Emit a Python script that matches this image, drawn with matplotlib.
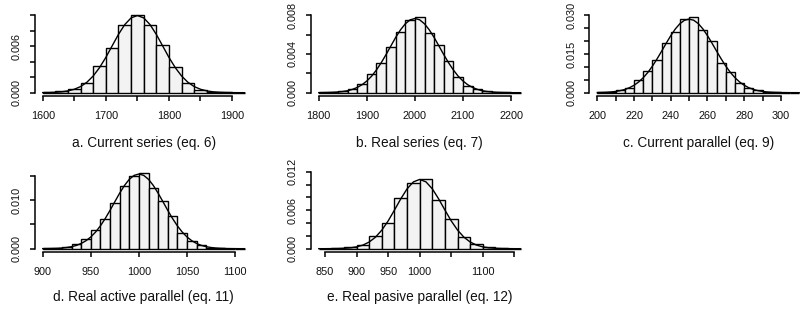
import numpy as np
import matplotlib
matplotlib.use("Agg")
import matplotlib.pyplot as plt

plt.rcParams['font.family'] = ['Liberation Sans', 'DejaVu Sans']

# ---------------- data ----------------
titles = ["a. Current series (eq. 6)", "b. Real series (eq. 7)", "c. Current parallel (eq. 9)",
          "d. Real active parallel (eq. 11)", "e. Real pasive parallel (eq. 12)"]

# histogram bin ranges (start, stop, width) and densities
a_bins = (1600, 1920, 20)
a_dens = [0.0001, 0.00025, 0.0005, 0.0013, 0.0034, 0.0058, 0.0088, 0.0101, 0.0088, 0.0062,
          0.0033, 0.0012, 0.0004, 0.0001, 0.00003, 0.00002]
b_bins = (1800, 2220, 20)
b_dens = [0.00003, 0.0001, 0.0002, 0.0004, 0.0009, 0.0019, 0.0031, 0.0047, 0.0063, 0.0075,
          0.0078, 0.0062, 0.0049, 0.0033, 0.0016, 0.0007, 0.0004, 0.00015, 0.00005, 0.00002, 0.00001]
c_bins = (200, 310, 5)
c_dens = [0.0001, 0.0002, 0.0009, 0.002, 0.0048, 0.0084, 0.0125, 0.0191, 0.0234, 0.0285, 0.0292,
          0.0241, 0.0199, 0.0114, 0.008, 0.0039, 0.0019, 0.001, 0.0003, 0.0001, 0.00003, 0.00001]
d_bins = (900, 1110, 10)
d_dens = [0.0001, 0.0001, 0.0003, 0.0009, 0.002, 0.0038, 0.0062, 0.0094, 0.0128, 0.015, 0.0155,
          0.0125, 0.0098, 0.0067, 0.0032, 0.0016, 0.0008, 0.0002, 0.0001, 0.00003, 0.00001]
e_bins = (840, 1160, 20)
e_dens = [0.00002, 0.00005, 0.0002, 0.0006, 0.002, 0.004, 0.0079, 0.0103, 0.0108, 0.0076,
          0.0047, 0.0018, 0.0007, 0.0002, 0.00005, 0.00002]

# density curves (x grid start, stop, step) and values
a_curve_x = (1600, 1920, 10)
a_curve_y = [0.00001, 0.00002, 0.00005, 0.00011, 0.00023, 0.00044, 0.00079, 0.00135, 0.00216,
             0.00324, 0.00456, 0.00605, 0.00753, 0.0088, 0.00966, 0.00997, 0.00966, 0.0088,
             0.00753, 0.00605, 0.00456, 0.00324, 0.00216, 0.00135, 0.00079, 0.00044, 0.00023,
             0.00011, 0.00005, 0.00002, 0.00001, 0, 0]
b_curve_x = (1800, 2220, 10)
b_curve_y = [0, 0.00001, 0.00002, 0.00004, 0.00007, 0.00012, 0.0002, 0.00034, 0.00054, 0.00082,
             0.00121, 0.00171, 0.00235, 0.0031, 0.00394, 0.00483, 0.00571, 0.00649, 0.00712,
             0.00753, 0.00767, 0.00753, 0.00712, 0.00649, 0.00571, 0.00483, 0.00394, 0.0031,
             0.00235, 0.00171, 0.00121, 0.00082, 0.00054, 0.00034, 0.0002, 0.00012, 0.00007,
             0.00004, 0.00002, 0.00001, 0, 0, 0]
c_curve_x = (200, 310, 2.5)
c_curve_y = [0.00005, 0.00009, 0.00016, 0.00028, 0.00048, 0.00079, 0.00125, 0.00193, 0.00287,
             0.00414, 0.00579, 0.00783, 0.01027, 0.01305, 0.01605, 0.01913, 0.02208, 0.02469,
             0.02674, 0.02805, 0.0285, 0.02805, 0.02674, 0.02469, 0.02208, 0.01913, 0.01605,
             0.01305, 0.01027, 0.00783, 0.00579, 0.00414, 0.00287, 0.00193, 0.00125, 0.00079,
             0.00048, 0.00028, 0.00016, 0.00009, 0.00005, 0.00003, 0.00001, 0.00001, 0]
d_curve_x = (900, 1110, 5)
d_curve_y = [0.00001, 0.00002, 0.00004, 0.00007, 0.00013, 0.00024, 0.00041, 0.00067, 0.00107,
             0.00164, 0.00241, 0.00343, 0.0047, 0.0062, 0.00788, 0.00966, 0.01141, 0.01299,
             0.01425, 0.01506, 0.01534, 0.01506, 0.01425, 0.01299, 0.01141, 0.00966, 0.00788,
             0.0062, 0.0047, 0.00343, 0.00241, 0.00164, 0.00107, 0.00067, 0.00041, 0.00024,
             0.00013, 0.00007, 0.00004, 0.00002, 0.00001, 0, 0]
e_curve_x = (840, 1160, 10)
e_curve_y = [0, 0, 0.00001, 0.00002, 0.00006, 0.00013, 0.00028, 0.00056, 0.00104, 0.0018, 0.0029,
             0.00433, 0.00602, 0.00777, 0.00933, 0.01041, 0.0108, 0.01041, 0.00933, 0.00777,
             0.00602, 0.00433, 0.0029, 0.0018, 0.00104, 0.00056, 0.00028, 0.00013, 0.00006,
             0.00002, 0.00001, 0, 0]

# axis ticks and labels
a_xticks = [1600, 1650, 1700, 1750, 1800, 1850, 1900]
a_xlabels = ["1600", "", "1700", "", "1800", "", "1900"]
a_yticks = [0, 0.002, 0.004, 0.006, 0.008, 0.010]
a_ylabels = ["0.000", "", "", "0.006", "", ""]
b_xticks = [1800, 1900, 2000, 2100, 2200]
b_xlabels = ["1800", "1900", "2000", "2100", "2200"]
b_yticks = [0, 0.002, 0.004, 0.006, 0.008]
b_ylabels = ["0.000", "", "0.004", "", "0.008"]
c_xticks = [200, 210, 220, 230, 240, 250, 260, 270, 280, 290, 300]
c_xlabels = ["200", "", "220", "", "240", "", "260", "", "280", "", "300"]
c_yticks = [0, 0.005, 0.010, 0.015, 0.020, 0.025, 0.030]
c_ylabels = ["0.000", "", "", "0.015", "", "", "0.030"]
d_xticks = [900, 950, 1000, 1050, 1100]
d_xlabels = ["900", "950", "1000", "1050", "1100"]
d_yticks = [0, 0.005, 0.010, 0.015]
d_ylabels = ["0.000", "", "0.010", ""]
e_xticks = [850, 900, 950, 1000, 1050, 1100, 1150]
e_xlabels = ["850", "900", "950", "1000", "", "1100", ""]
e_yticks = [0, 0.002, 0.004, 0.006, 0.008, 0.010, 0.012]
e_ylabels = ["0.000", "", "", "0.006", "", "", "0.012"]

# ---------------- layout ----------------
W, H = 800, 312
fig = plt.figure(figsize=(W / 100, H / 100), dpi=100)

panels = [
    (34.7, 11.3, 0.01011, a_bins, a_dens, a_curve_x, a_curve_y, a_xticks, a_xlabels, a_yticks, a_ylabels),
    (310.7, 11.3, 0.00809, b_bins, b_dens, b_curve_x, b_curve_y, b_xticks, b_xlabels, b_yticks, b_ylabels),
    (589.3, 11.3, 0.0303, c_bins, c_dens, c_curve_x, c_curve_y, c_xticks, c_xlabels, c_yticks, c_ylabels),
    (34.7, 167.3, 0.01608, d_bins, d_dens, d_curve_x, d_curve_y, d_xticks, d_xlabels, d_yticks, d_ylabels),
    (310.7, 167.3, 0.0122, e_bins, e_dens, e_curve_x, e_curve_y, e_xticks, e_xlabels, e_yticks, e_ylabels),
]
AW, AH = 218, 84.5

for i, (lx, ty, ytop, bins, dens, cx, cy, xt, xl, yt, yl) in enumerate(panels):
    ax = fig.add_axes([lx / W, 1 - (ty + AH) / H, AW / W, AH / H])
    lo, hi, step = bins
    edges = np.arange(lo, hi, step)
    ax.bar(edges, dens, width=step, align='edge', color='#f3f3f3', edgecolor='black',
           linewidth=1.0, zorder=2)
    xs = np.arange(cx[0], cx[1] + cx[2] / 2, cx[2])
    ax.plot(xs, cy, color='black', lw=1.0, zorder=3)
    span = hi - lo
    ax.set_xlim(lo - 0.04 * span, hi + 0.04 * span)
    ax.set_ylim(-0.04 * ytop, 1.04 * ytop)
    for s in ('top', 'right'):
        ax.spines[s].set_visible(False)
    ax.spines['left'].set_bounds(yt[0], yt[-1])
    ax.spines['bottom'].set_bounds(xt[0], xt[-1])
    for s in ('left', 'bottom'):
        ax.spines[s].set_linewidth(1.1)
    ax.set_xticks(xt)
    ax.set_xticklabels(xl)
    ax.set_yticks(yt)
    ax.set_yticklabels(yl, rotation=90, va='center')
    ax.tick_params(axis='both', length=3.8, width=1.1, labelsize=7.8, color='black',
                   labelcolor='#111111')
    ax.tick_params(axis='x', pad=7)
    ax.tick_params(axis='y', pad=5.5)
    ax.text(0.5, -0.56 if i < 3 else -0.535, titles[i], transform=ax.transAxes,
            ha='center', va='center', fontsize=9.8, color='#111111')
    ax.patch.set_visible(False)

fig.savefig("out.png", dpi=100)
